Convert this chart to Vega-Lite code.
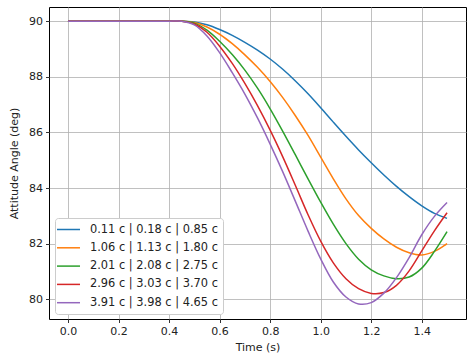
{
  "$schema": "https://vega.github.io/schema/vega-lite/v6.json",
  "autosize": {"type": "none"},
  "width": 417,
  "height": 312,
  "padding": {"left": 49, "top": 7, "right": 8, "bottom": 44},
  "background": "white",
  "config": {
    "font": "DejaVu Sans",
    "view": {"stroke": "black", "strokeWidth": 1},
    "axis": {
      "domain": false,
      "grid": true,
      "gridColor": "#b0b0b0",
      "gridWidth": 0.8,
      "tickColor": "black",
      "tickSize": 3.5,
      "tickWidth": 0.8,
      "labelFont": "DejaVu Sans",
      "labelFontSize": 11,
      "labelColor": "#222222",
      "titleFont": "DejaVu Sans",
      "titleFontSize": 11,
      "titleFontWeight": "normal",
      "titleColor": "#222222",
      "labelPadding": 3
    }
  },
  "datasets": {
    "curves": [
      {"t": 0.0, "angle": 90.0, "series": "0.11 c | 0.18 c | 0.85 c"},
      {"t": 0.1, "angle": 90.0, "series": "0.11 c | 0.18 c | 0.85 c"},
      {"t": 0.2, "angle": 90.0, "series": "0.11 c | 0.18 c | 0.85 c"},
      {"t": 0.3, "angle": 90.0, "series": "0.11 c | 0.18 c | 0.85 c"},
      {"t": 0.35, "angle": 90.0, "series": "0.11 c | 0.18 c | 0.85 c"},
      {"t": 0.4, "angle": 90.0, "series": "0.11 c | 0.18 c | 0.85 c"},
      {"t": 0.45, "angle": 90.0, "series": "0.11 c | 0.18 c | 0.85 c"},
      {"t": 0.5, "angle": 89.97, "series": "0.11 c | 0.18 c | 0.85 c"},
      {"t": 0.55, "angle": 89.87, "series": "0.11 c | 0.18 c | 0.85 c"},
      {"t": 0.6, "angle": 89.7, "series": "0.11 c | 0.18 c | 0.85 c"},
      {"t": 0.65, "angle": 89.49, "series": "0.11 c | 0.18 c | 0.85 c"},
      {"t": 0.7, "angle": 89.24, "series": "0.11 c | 0.18 c | 0.85 c"},
      {"t": 0.75, "angle": 88.96, "series": "0.11 c | 0.18 c | 0.85 c"},
      {"t": 0.8, "angle": 88.64, "series": "0.11 c | 0.18 c | 0.85 c"},
      {"t": 0.85, "angle": 88.27, "series": "0.11 c | 0.18 c | 0.85 c"},
      {"t": 0.9, "angle": 87.85, "series": "0.11 c | 0.18 c | 0.85 c"},
      {"t": 0.95, "angle": 87.39, "series": "0.11 c | 0.18 c | 0.85 c"},
      {"t": 1.0, "angle": 86.89, "series": "0.11 c | 0.18 c | 0.85 c"},
      {"t": 1.05, "angle": 86.37, "series": "0.11 c | 0.18 c | 0.85 c"},
      {"t": 1.1, "angle": 85.86, "series": "0.11 c | 0.18 c | 0.85 c"},
      {"t": 1.15, "angle": 85.37, "series": "0.11 c | 0.18 c | 0.85 c"},
      {"t": 1.2, "angle": 84.91, "series": "0.11 c | 0.18 c | 0.85 c"},
      {"t": 1.25, "angle": 84.47, "series": "0.11 c | 0.18 c | 0.85 c"},
      {"t": 1.3, "angle": 84.06, "series": "0.11 c | 0.18 c | 0.85 c"},
      {"t": 1.35, "angle": 83.69, "series": "0.11 c | 0.18 c | 0.85 c"},
      {"t": 1.4, "angle": 83.36, "series": "0.11 c | 0.18 c | 0.85 c"},
      {"t": 1.45, "angle": 83.09, "series": "0.11 c | 0.18 c | 0.85 c"},
      {"t": 1.5, "angle": 82.91, "series": "0.11 c | 0.18 c | 0.85 c"},

      {"t": 0.0, "angle": 90.0, "series": "1.06 c | 1.13 c | 1.80 c"},
      {"t": 0.1, "angle": 90.0, "series": "1.06 c | 1.13 c | 1.80 c"},
      {"t": 0.2, "angle": 90.0, "series": "1.06 c | 1.13 c | 1.80 c"},
      {"t": 0.3, "angle": 90.0, "series": "1.06 c | 1.13 c | 1.80 c"},
      {"t": 0.35, "angle": 90.0, "series": "1.06 c | 1.13 c | 1.80 c"},
      {"t": 0.4, "angle": 90.0, "series": "1.06 c | 1.13 c | 1.80 c"},
      {"t": 0.45, "angle": 90.0, "series": "1.06 c | 1.13 c | 1.80 c"},
      {"t": 0.5, "angle": 89.95, "series": "1.06 c | 1.13 c | 1.80 c"},
      {"t": 0.55, "angle": 89.79, "series": "1.06 c | 1.13 c | 1.80 c"},
      {"t": 0.6, "angle": 89.53, "series": "1.06 c | 1.13 c | 1.80 c"},
      {"t": 0.65, "angle": 89.19, "series": "1.06 c | 1.13 c | 1.80 c"},
      {"t": 0.7, "angle": 88.79, "series": "1.06 c | 1.13 c | 1.80 c"},
      {"t": 0.75, "angle": 88.34, "series": "1.06 c | 1.13 c | 1.80 c"},
      {"t": 0.8, "angle": 87.83, "series": "1.06 c | 1.13 c | 1.80 c"},
      {"t": 0.85, "angle": 87.25, "series": "1.06 c | 1.13 c | 1.80 c"},
      {"t": 0.9, "angle": 86.6, "series": "1.06 c | 1.13 c | 1.80 c"},
      {"t": 0.95, "angle": 85.89, "series": "1.06 c | 1.13 c | 1.80 c"},
      {"t": 1.0, "angle": 85.11, "series": "1.06 c | 1.13 c | 1.80 c"},
      {"t": 1.05, "angle": 84.33, "series": "1.06 c | 1.13 c | 1.80 c"},
      {"t": 1.1, "angle": 83.61, "series": "1.06 c | 1.13 c | 1.80 c"},
      {"t": 1.15, "angle": 83.01, "series": "1.06 c | 1.13 c | 1.80 c"},
      {"t": 1.2, "angle": 82.55, "series": "1.06 c | 1.13 c | 1.80 c"},
      {"t": 1.25, "angle": 82.17, "series": "1.06 c | 1.13 c | 1.80 c"},
      {"t": 1.3, "angle": 81.87, "series": "1.06 c | 1.13 c | 1.80 c"},
      {"t": 1.35, "angle": 81.67, "series": "1.06 c | 1.13 c | 1.80 c"},
      {"t": 1.4, "angle": 81.59, "series": "1.06 c | 1.13 c | 1.80 c"},
      {"t": 1.45, "angle": 81.72, "series": "1.06 c | 1.13 c | 1.80 c"},
      {"t": 1.5, "angle": 82.0, "series": "1.06 c | 1.13 c | 1.80 c"},

      {"t": 0.0, "angle": 90.0, "series": "2.01 c | 2.08 c | 2.75 c"},
      {"t": 0.1, "angle": 90.0, "series": "2.01 c | 2.08 c | 2.75 c"},
      {"t": 0.2, "angle": 90.0, "series": "2.01 c | 2.08 c | 2.75 c"},
      {"t": 0.3, "angle": 90.0, "series": "2.01 c | 2.08 c | 2.75 c"},
      {"t": 0.35, "angle": 90.0, "series": "2.01 c | 2.08 c | 2.75 c"},
      {"t": 0.4, "angle": 90.0, "series": "2.01 c | 2.08 c | 2.75 c"},
      {"t": 0.45, "angle": 90.0, "series": "2.01 c | 2.08 c | 2.75 c"},
      {"t": 0.5, "angle": 89.93, "series": "2.01 c | 2.08 c | 2.75 c"},
      {"t": 0.55, "angle": 89.68, "series": "2.01 c | 2.08 c | 2.75 c"},
      {"t": 0.6, "angle": 89.28, "series": "2.01 c | 2.08 c | 2.75 c"},
      {"t": 0.65, "angle": 88.8, "series": "2.01 c | 2.08 c | 2.75 c"},
      {"t": 0.7, "angle": 88.24, "series": "2.01 c | 2.08 c | 2.75 c"},
      {"t": 0.75, "angle": 87.59, "series": "2.01 c | 2.08 c | 2.75 c"},
      {"t": 0.8, "angle": 86.85, "series": "2.01 c | 2.08 c | 2.75 c"},
      {"t": 0.85, "angle": 86.04, "series": "2.01 c | 2.08 c | 2.75 c"},
      {"t": 0.9, "angle": 85.19, "series": "2.01 c | 2.08 c | 2.75 c"},
      {"t": 0.95, "angle": 84.33, "series": "2.01 c | 2.08 c | 2.75 c"},
      {"t": 1.0, "angle": 83.49, "series": "2.01 c | 2.08 c | 2.75 c"},
      {"t": 1.05, "angle": 82.7, "series": "2.01 c | 2.08 c | 2.75 c"},
      {"t": 1.1, "angle": 82.0, "series": "2.01 c | 2.08 c | 2.75 c"},
      {"t": 1.15, "angle": 81.44, "series": "2.01 c | 2.08 c | 2.75 c"},
      {"t": 1.2, "angle": 81.06, "series": "2.01 c | 2.08 c | 2.75 c"},
      {"t": 1.25, "angle": 80.84, "series": "2.01 c | 2.08 c | 2.75 c"},
      {"t": 1.3, "angle": 80.74, "series": "2.01 c | 2.08 c | 2.75 c"},
      {"t": 1.35, "angle": 80.8, "series": "2.01 c | 2.08 c | 2.75 c"},
      {"t": 1.4, "angle": 81.12, "series": "2.01 c | 2.08 c | 2.75 c"},
      {"t": 1.45, "angle": 81.72, "series": "2.01 c | 2.08 c | 2.75 c"},
      {"t": 1.5, "angle": 82.43, "series": "2.01 c | 2.08 c | 2.75 c"},

      {"t": 0.0, "angle": 90.0, "series": "2.96 c | 3.03 c | 3.70 c"},
      {"t": 0.1, "angle": 90.0, "series": "2.96 c | 3.03 c | 3.70 c"},
      {"t": 0.2, "angle": 90.0, "series": "2.96 c | 3.03 c | 3.70 c"},
      {"t": 0.3, "angle": 90.0, "series": "2.96 c | 3.03 c | 3.70 c"},
      {"t": 0.35, "angle": 90.0, "series": "2.96 c | 3.03 c | 3.70 c"},
      {"t": 0.4, "angle": 90.0, "series": "2.96 c | 3.03 c | 3.70 c"},
      {"t": 0.45, "angle": 90.0, "series": "2.96 c | 3.03 c | 3.70 c"},
      {"t": 0.5, "angle": 89.9, "series": "2.96 c | 3.03 c | 3.70 c"},
      {"t": 0.55, "angle": 89.6, "series": "2.96 c | 3.03 c | 3.70 c"},
      {"t": 0.6, "angle": 89.1, "series": "2.96 c | 3.03 c | 3.70 c"},
      {"t": 0.65, "angle": 88.48, "series": "2.96 c | 3.03 c | 3.70 c"},
      {"t": 0.7, "angle": 87.76, "series": "2.96 c | 3.03 c | 3.70 c"},
      {"t": 0.75, "angle": 86.96, "series": "2.96 c | 3.03 c | 3.70 c"},
      {"t": 0.8, "angle": 86.08, "series": "2.96 c | 3.03 c | 3.70 c"},
      {"t": 0.85, "angle": 85.12, "series": "2.96 c | 3.03 c | 3.70 c"},
      {"t": 0.9, "angle": 84.09, "series": "2.96 c | 3.03 c | 3.70 c"},
      {"t": 0.95, "angle": 83.04, "series": "2.96 c | 3.03 c | 3.70 c"},
      {"t": 1.0, "angle": 82.09, "series": "2.96 c | 3.03 c | 3.70 c"},
      {"t": 1.05, "angle": 81.31, "series": "2.96 c | 3.03 c | 3.70 c"},
      {"t": 1.1, "angle": 80.74, "series": "2.96 c | 3.03 c | 3.70 c"},
      {"t": 1.15, "angle": 80.38, "series": "2.96 c | 3.03 c | 3.70 c"},
      {"t": 1.2, "angle": 80.21, "series": "2.96 c | 3.03 c | 3.70 c"},
      {"t": 1.25, "angle": 80.24, "series": "2.96 c | 3.03 c | 3.70 c"},
      {"t": 1.3, "angle": 80.5, "series": "2.96 c | 3.03 c | 3.70 c"},
      {"t": 1.35, "angle": 81.02, "series": "2.96 c | 3.03 c | 3.70 c"},
      {"t": 1.4, "angle": 81.74, "series": "2.96 c | 3.03 c | 3.70 c"},
      {"t": 1.45, "angle": 82.46, "series": "2.96 c | 3.03 c | 3.70 c"},
      {"t": 1.5, "angle": 83.11, "series": "2.96 c | 3.03 c | 3.70 c"},

      {"t": 0.0, "angle": 90.0, "series": "3.91 c | 3.98 c | 4.65 c"},
      {"t": 0.1, "angle": 90.0, "series": "3.91 c | 3.98 c | 4.65 c"},
      {"t": 0.2, "angle": 90.0, "series": "3.91 c | 3.98 c | 4.65 c"},
      {"t": 0.3, "angle": 90.0, "series": "3.91 c | 3.98 c | 4.65 c"},
      {"t": 0.35, "angle": 90.0, "series": "3.91 c | 3.98 c | 4.65 c"},
      {"t": 0.4, "angle": 90.0, "series": "3.91 c | 3.98 c | 4.65 c"},
      {"t": 0.45, "angle": 90.0, "series": "3.91 c | 3.98 c | 4.65 c"},
      {"t": 0.5, "angle": 89.87, "series": "3.91 c | 3.98 c | 4.65 c"},
      {"t": 0.55, "angle": 89.47, "series": "3.91 c | 3.98 c | 4.65 c"},
      {"t": 0.6, "angle": 88.87, "series": "3.91 c | 3.98 c | 4.65 c"},
      {"t": 0.65, "angle": 88.15, "series": "3.91 c | 3.98 c | 4.65 c"},
      {"t": 0.7, "angle": 87.38, "series": "3.91 c | 3.98 c | 4.65 c"},
      {"t": 0.75, "angle": 86.52, "series": "3.91 c | 3.98 c | 4.65 c"},
      {"t": 0.8, "angle": 85.58, "series": "3.91 c | 3.98 c | 4.65 c"},
      {"t": 0.85, "angle": 84.58, "series": "3.91 c | 3.98 c | 4.65 c"},
      {"t": 0.9, "angle": 83.52, "series": "3.91 c | 3.98 c | 4.65 c"},
      {"t": 0.95, "angle": 82.45, "series": "3.91 c | 3.98 c | 4.65 c"},
      {"t": 1.0, "angle": 81.45, "series": "3.91 c | 3.98 c | 4.65 c"},
      {"t": 1.05, "angle": 80.62, "series": "3.91 c | 3.98 c | 4.65 c"},
      {"t": 1.1, "angle": 80.08, "series": "3.91 c | 3.98 c | 4.65 c"},
      {"t": 1.15, "angle": 79.83, "series": "3.91 c | 3.98 c | 4.65 c"},
      {"t": 1.2, "angle": 79.88, "series": "3.91 c | 3.98 c | 4.65 c"},
      {"t": 1.25, "angle": 80.22, "series": "3.91 c | 3.98 c | 4.65 c"},
      {"t": 1.3, "angle": 80.78, "series": "3.91 c | 3.98 c | 4.65 c"},
      {"t": 1.35, "angle": 81.5, "series": "3.91 c | 3.98 c | 4.65 c"},
      {"t": 1.4, "angle": 82.32, "series": "3.91 c | 3.98 c | 4.65 c"},
      {"t": 1.45, "angle": 82.98, "series": "3.91 c | 3.98 c | 4.65 c"},
      {"t": 1.5, "angle": 83.48, "series": "3.91 c | 3.98 c | 4.65 c"}
    ]
  },
  "data": {"name": "curves"},
  "mark": {"type": "line", "strokeWidth": 1.5, "interpolate": "catmull-rom", "clip": true},
  "encoding": {
    "x": {
      "field": "t",
      "type": "quantitative",
      "title": "Time (s)",
      "scale": {"domain": [-0.075, 1.575], "nice": false, "zero": false},
      "axis": {"values": [0, 0.2, 0.4, 0.6, 0.8, 1.0, 1.2, 1.4], "format": ".1f", "titlePadding": 5}
    },
    "y": {
      "field": "angle",
      "type": "quantitative",
      "title": "Attitude Angle (deg)",
      "scale": {"domain": [79.29, 90.51], "nice": false, "zero": false},
      "axis": {"values": [80, 82, 84, 86, 88, 90], "format": "d", "titlePadding": 9}
    },
    "color": {
      "field": "series",
      "type": "nominal",
      "scale": {
        "domain": ["0.11 c | 0.18 c | 0.85 c", "1.06 c | 1.13 c | 1.80 c", "2.01 c | 2.08 c | 2.75 c", "2.96 c | 3.03 c | 3.70 c", "3.91 c | 3.98 c | 4.65 c"],
        "range": ["#1f77b4", "#ff7f0e", "#2ca02c", "#d62728", "#9467bd"]
      },
      "legend": {
        "title": null,
        "orient": "none",
        "legendX": 6,
        "legendY": 211,
        "symbolType": "M-2,0L2,0",
        "symbolSize": 132,
        "symbolStrokeWidth": 1.5,
        "symbolOffset": 2,
        "labelFont": "DejaVu Sans",
        "labelFontSize": 11.4,
        "labelColor": "#222222",
        "labelOffset": 15,
        "rowPadding": 6.3,
        "padding": 5,
        "strokeColor": "#cccccc",
        "fillColor": "white",
        "cornerRadius": 3
      }
    }
  }
}
